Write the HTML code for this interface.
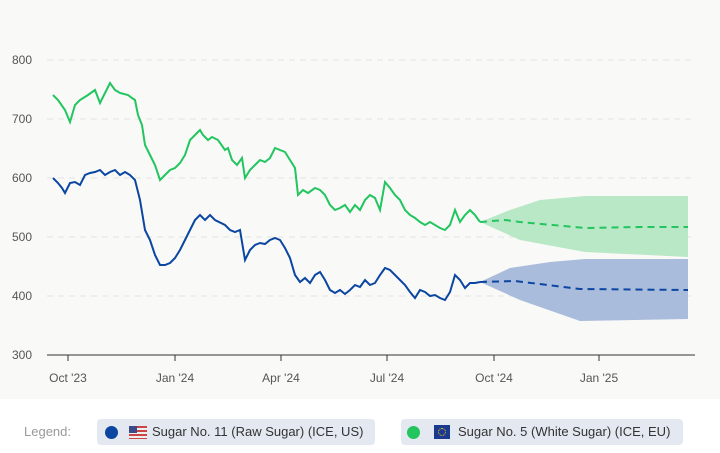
<!DOCTYPE html><html><head><style>
body{margin:0;width:720px;height:453px;background:#fff;font-family:"Liberation Sans",sans-serif;overflow:hidden}
.chart{position:absolute;left:0;top:0;width:720px;height:399px;background:#f9f9f8}
.leg{position:absolute;top:419px;height:26px;border-radius:4px;background:#e4e9f1;font-size:13px;color:#333;line-height:26px}
</style></head><body>
<div class="chart"><svg width="720" height="399" font-family="Liberation Sans" font-size="12" fill="#555">
<g stroke="#e2e2e2" stroke-dasharray="6,5"><line x1="47" x2="695" y1="60" y2="60"/><line x1="47" x2="695" y1="119" y2="119"/><line x1="47" x2="695" y1="178" y2="178"/><line x1="47" x2="695" y1="237" y2="237"/><line x1="47" x2="695" y1="296" y2="296"/></g>
<line x1="47" x2="695" y1="355" y2="355" stroke="#333"/>
<g text-anchor="end"><text x="32" y="64">800</text><text x="32" y="123">700</text><text x="32" y="182">600</text><text x="32" y="241">500</text><text x="32" y="300">400</text><text x="32" y="359">300</text></g>
<g stroke="#333"><line x1="68" x2="68" y1="355" y2="361"/><line x1="175" x2="175" y1="355" y2="361"/><line x1="281" x2="281" y1="355" y2="361"/><line x1="387" x2="387" y1="355" y2="361"/><line x1="494" x2="494" y1="355" y2="361"/><line x1="599" x2="599" y1="355" y2="361"/></g>
<g text-anchor="middle"><text x="68" y="382">Oct '23</text><text x="175" y="382">Jan '24</text><text x="281" y="382">Apr '24</text><text x="387" y="382">Jul '24</text><text x="494" y="382">Oct '24</text><text x="599" y="382">Jan '25</text></g>
<polygon fill="#b9e8c7" points="480,222 510,210 540,200 585,196 688,196 688,257 585,252 520,240"/>
<polygon fill="#aabcdc" points="480,282 510,268 550,262 585,259 688,259 688,319 580,321 520,300"/>
<polyline fill="none" stroke="#22c55e" stroke-width="2" points="53,95 58,100 65,110 70,122 75,105 80,100 88,95 95,90 100,103 105,93 110,83 115,90 120,93 128,95 132,98 135,100 138,115 142,125 145,145 150,155 155,165 160,180 165,175 170,170 175,168 180,163 185,155 190,140 195,135 200,130 203,135 208,140 212,137 218,140 225,150 228,148 232,160 237,165 242,158 245,178 250,170 255,165 260,160 265,162 270,158 275,148 280,150 285,152 290,160 295,168 298,195 303,190 308,193 315,188 320,190 325,195 330,205 335,210 340,208 345,205 350,212 355,205 360,210 365,200 370,195 375,198 380,210 385,182 390,188 395,195 400,200 405,210 410,215 415,218 420,222 425,225 430,222 440,228 445,230 450,225 455,210 460,222 465,215 470,210 475,215 480,222"/>
<polyline fill="none" stroke="#22c55e" stroke-width="2" stroke-dasharray="7,5" points="480,222 505,220 520,222 585,228 640,227 688,227"/>
<polyline fill="none" stroke="#0b46a0" stroke-width="2" points="53,178 58,183 62,188 65,193 70,183 75,182 80,185 85,175 90,173 95,172 100,170 105,175 110,172 115,170 120,175 125,172 130,175 135,180 140,200 145,230 150,240 155,255 160,265 165,265 170,263 175,258 180,250 185,240 190,230 195,220 200,215 205,220 210,215 215,220 225,225 230,230 235,232 240,230 245,260 250,250 255,245 260,243 265,244 270,240 275,238 280,240 285,248 290,258 295,275 300,282 305,278 310,283 315,275 320,272 325,280 330,290 335,293 340,290 345,294 350,290 355,285 360,287 365,280 370,285 375,283 380,275 385,268 390,270 395,275 400,280 405,285 410,292 415,298 420,290 425,292 430,296 435,295 440,298 445,300 450,292 455,275 460,280 465,288 470,283 475,283 480,282"/>
<polyline fill="none" stroke="#0b46a0" stroke-width="2" stroke-dasharray="7,5" points="480,282 515,281 580,289 688,290"/>
</svg></div>
<div style="position:absolute;left:24px;top:424px;font-size:13px;color:#999">Legend:</div>
<div class="leg" style="left:97px;width:278px"><span style="position:absolute;left:8px;top:7px;width:13px;height:13px;border-radius:50%;background:#0b46a0"></span><span style="position:absolute;left:32px;top:7px;width:18px;height:13px;background:repeating-linear-gradient(#c44 0 2px,#eee 2px 4px)"><span style="position:absolute;left:0;top:0;width:8px;height:7px;background:#3c4a8a"></span></span><span style="position:absolute;left:55px">Sugar No. 11 (Raw Sugar) (ICE, US)</span></div>
<div class="leg" style="left:401px;width:282px"><span style="position:absolute;left:6px;top:7px;width:13px;height:13px;border-radius:50%;background:#22c55e"></span><span style="position:absolute;left:33px;top:6px;width:16px;height:14px;background:#1a3a8f"><span style="position:absolute;left:4px;top:3px;width:6px;height:6px;border:1px dotted #fc0;border-radius:50%"></span></span><span style="position:absolute;left:57px">Sugar No. 5 (White Sugar) (ICE, EU)</span></div>
</body></html>
